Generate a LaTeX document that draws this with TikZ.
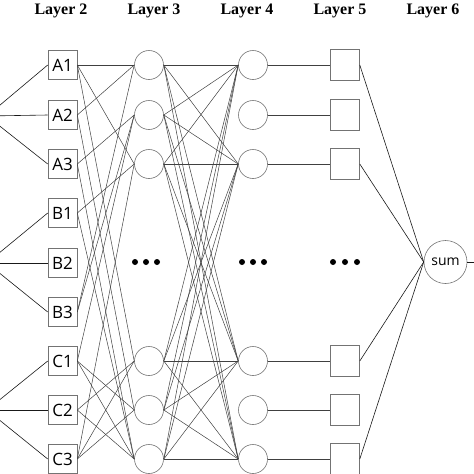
\documentclass[tikz,border=0pt]{standalone}
\usepackage{fontspec}
\setmainfont{Liberation Serif}
\newfontfamily\boxfont{Open Sans}
\usetikzlibrary{positioning}

\tikzset{
  layerlabel/.style={font=\bfseries\fontsize{16}{16}\selectfont},
  inbox/.style={draw=black!55, line width=0.6pt, minimum width=29pt, minimum height=29pt, inner sep=0pt, font=\boxfont\fontsize{17}{17}\selectfont},
  rulenode/.style={circle, draw=black!55, line width=0.6pt, minimum size=29pt, inner sep=0pt},
  outbox/.style={draw=black!55, line width=0.6pt, minimum width=29pt, minimum height=31pt, inner sep=0pt},
  sumnode/.style={circle, draw=black!55, line width=0.6pt, minimum size=43pt, inner sep=0pt, font=\boxfont\fontsize{14}{14}\selectfont},
  link/.style={black!75, line width=0.5pt},
  heavylink/.style={black!90, line width=0.6pt},
  dotnode/.style={circle, fill=black, minimum size=6pt, inner sep=0pt}
}

\begin{document}
\begin{tikzpicture}[x=1pt,y=-1pt]
\useasboundingbox (0,0) rectangle (474,474);
\clip (0,0) rectangle (474,474);

% Layer titles
\node[layerlabel] (t2) at (61,11) {Layer 2};
\node[layerlabel] (t3) at (154,11) {Layer 3};
\node[layerlabel] (t4) at (247,11) {Layer 4};
\node[layerlabel] (t5) at (340,11) {Layer 5};
\node[layerlabel] (t6) at (433,11) {Layer 6};

% Layer 2 input boxes
\foreach \lab/\y in {A1/65,A2/115,A3/164,B1/213,B2/263,B3/312,C1/361,C2/410,C3/459}
  \node[inbox] (\lab) at (62.5,\y) {\lab};

% Layers 3, 4 and 5
\foreach \n/\y in {1/65,2/115,3/164,4/361,5/410,6/459} {
  \node[rulenode] (r\n) at (149,\y) {};
  \node[rulenode] (h\n) at (253,\y) {};
  \node[outbox] (o\n) at (345,\y) {};
}

% Layer 6
\node[sumnode] (sum) at (445.5,262) {sum};

% Dots for the hidden nodes
\foreach \x in {135,146,157,242,253,264,333,345,357}
  \node[dotnode] (d\x) at (\x,262) {};

% Inputs coming in from the left
\coordinate (inA) at (-13,116);
\coordinate (inB) at (-13,263);
\coordinate (inC) at (-13,410);
\coordinate (out) at (480,262);
\foreach \g in {A,B,C}
  \foreach \i in {1,2,3}
    \draw[heavylink] (in\g) -- (\g\i.west);

% Layer 2 to layer 3
\foreach \lab/\targets in {A1/{1,3,4},A2/{1,5},A3/{2,6},B1/{3,6},B3/{1,2},C1/{2,5,6},C2/{4,6},C3/{3,4,5}}
  \foreach \t in \targets
    \draw[link] (\lab.east) -- (r\t.west);

% Layer 3 to layer 4
\foreach \s in {1,...,6}
  \foreach \t in {1,3,4,6}
    \draw[link] (r\s.east) -- (h\t.west);

% Layer 4 to layer 5
\foreach \n in {1,...,6}
  \draw[link] (h\n.east) -- (o\n.west);

% Layer 5 to the sum
\foreach \n in {1,3,4,6}
  \draw[heavylink] (o\n.east) -- (sum.west);
\draw[heavylink] (sum.east) -- (out);
\end{tikzpicture}
\end{document}
